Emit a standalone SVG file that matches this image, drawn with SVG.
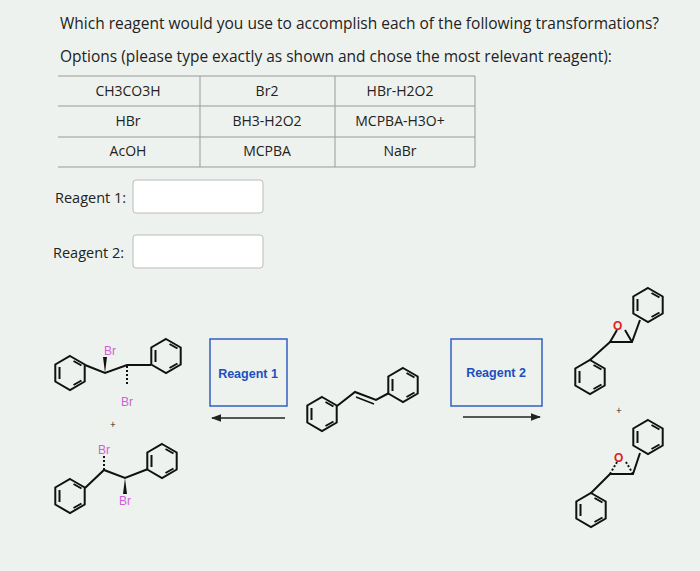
<svg xmlns="http://www.w3.org/2000/svg" width="700" height="571" viewBox="0 0 700 571">
<style>
.t{font-family:"Open Sans","Liberation Sans",sans-serif;fill:#222}
.q{font-size:15.5px}.c{font-size:14px;text-anchor:middle}
.b{fill:none;stroke:#111;stroke-width:2}
.br{font-family:"Liberation Sans",sans-serif;font-size:12px;fill:#d060d8}
.o{font-family:"Liberation Sans",sans-serif;font-size:12px;fill:#e02020;font-weight:bold}
.rg{font-family:"Liberation Sans",sans-serif;font-size:12.5px;font-weight:bold;fill:#1a4fc0;text-anchor:middle}
</style>
<defs>
<g id="ring"><polygon class="b" points="0,-17 14.7,-8.5 14.7,8.5 0,17 -14.7,8.5 -14.7,-8.5"/><path class="b" d="M-10.5,-6 L-10.5,6 M3.5,-12 L11.5,-7.5 M3.5,12 L11.5,7.5" stroke-width="1.7"/></g>
<marker id="ah" markerWidth="8" markerHeight="6" refX="7" refY="3" orient="auto"><path d="M0,0 L8,3 L0,6z" fill="#222"/></marker>
</defs>
<rect width="700" height="571" fill="#eef2ee"/>
<text class="t q" x="60" y="29">Which reagent would you use to accomplish each of the following transformations?</text>
<text class="t q" x="60" y="62">Options (please type exactly as shown and chose the most relevant reagent):</text>
<g id="table" stroke="#999" fill="none">
<path d="M58,76 H475 M58,106 H475 M58,137 H475 M58,167 H475 M200,76 V167 M335,76 V167 M475,76 V167"/>
</g>
<g class="t c">
<text x="128" y="96">CH3CO3H</text><text x="267" y="96">Br2</text><text x="400" y="96">HBr-H2O2</text>
<text x="128" y="126">HBr</text><text x="267" y="126">BH3-H2O2</text><text x="400" y="126">MCPBA-H3O+</text>
<text x="128" y="156">AcOH</text><text x="267" y="156">MCPBA</text><text x="400" y="156">NaBr</text>
</g>
<text class="t" font-size="14.5" x="55" y="203">Reagent 1:</text>
<rect x="133" y="180" width="130" height="33" rx="3" fill="#fff" stroke="#bbb"/>
<text class="t" font-size="14.5" x="53" y="258">Reagent 2:</text>
<rect x="133" y="235" width="130" height="33" rx="3" fill="#fff" stroke="#bbb"/>
<g id="dibromide1">
<use href="#ring" x="70" y="373"/><use href="#ring" x="166" y="356"/>
<path class="b" d="M85,365 L105,373 L127,365 L151,365"/>
<path d="M105,373 L103,357 L107,357z" fill="#111"/>
<path d="M127,366 V384" stroke="#111" stroke-width="2" stroke-dasharray="2,2"/>
<text class="br" x="104" y="355">Br</text><text class="br" x="121" y="406">Br</text>
</g>
<text class="t" font-size="10" x="110" y="428">+</text>
<g id="dibromide2">
<use href="#ring" x="70" y="496"/><use href="#ring" x="162" y="461"/>
<path class="b" d="M85,488 L104,470 L125,478 L148,469"/>
<path d="M104,470 V456" stroke="#111" stroke-width="2" stroke-dasharray="2,2"/>
<path d="M125,478 L123,494 L127,494z" fill="#111"/>
<text class="br" x="98" y="454">Br</text><text class="br" x="119" y="505">Br</text>
</g>
<g id="reagent1"><rect x="210" y="339" width="77" height="67" fill="none" stroke="#3060c0" stroke-width="1.5"/><text class="rg" x="248" y="378">Reagent 1</text></g>
<g id="reagent2"><rect x="451" y="339" width="91" height="67" fill="none" stroke="#3060c0" stroke-width="1.5"/><text class="rg" x="496" y="377">Reagent 2</text></g>
<g id="connectors">
<line x1="285" y1="418" x2="212" y2="418" stroke="#222" stroke-width="1.3" marker-end="url(#ah)"/>
<line x1="463" y1="417" x2="540" y2="417" stroke="#222" stroke-width="1.3" marker-end="url(#ah)"/>
</g>
<g id="stilbene">
<use href="#ring" x="322" y="414"/><use href="#ring" x="403" y="385"/>
<path class="b" d="M337,406 L355,392 L376,400 L389,393"/>
<path d="M356,397 L374,404" stroke="#111" stroke-width="1.5"/>
</g>
<g id="epoxide1">
<use href="#ring" x="648" y="305"/><use href="#ring" x="590" y="377"/>
<path class="b" d="M590,360 L610,342 L632,342 L640,320"/>
<path class="b" d="M610,342 L617,330 M632,342 L625,330"/>
<text class="o" x="613" y="330">O</text>
</g>
<text class="t" font-size="10" x="616" y="414">+</text>
<g id="epoxide2">
<use href="#ring" x="648" y="437"/><use href="#ring" x="591" y="510"/>
<path class="b" d="M591,493 L610,474 L633,474 L640,453"/>
<path d="M610,474 L617,462 M633,474 L626,462" stroke="#111" stroke-width="2" stroke-dasharray="2,2"/>
<text class="o" x="614" y="462">O</text>
</g>
</svg>
